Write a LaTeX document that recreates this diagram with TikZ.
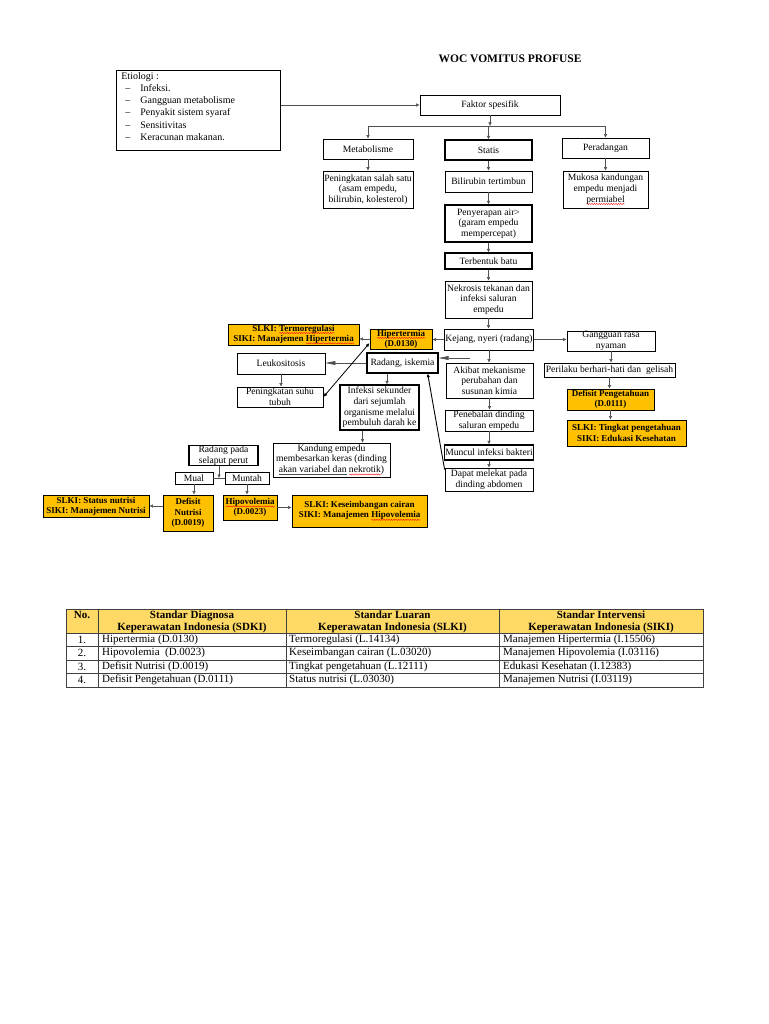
\documentclass[tikz,border=0pt]{standalone}
\usepackage{fontspec}
\setmainfont{Liberation Serif}
\usetikzlibrary{arrows.meta,decorations.pathmorphing}
\definecolor{hiorange}{HTML}{FFC000}
\definecolor{headfill}{HTML}{FFD966}
\definecolor{tblline}{HTML}{404040}
\definecolor{wire}{HTML}{505050}
\newsavebox\wavebox
\newcommand\spellwave[1]{\sbox\wavebox{#1}\rlap{\tikz[baseline=0pt]\draw[red, line width=0.35pt, decoration={snake, amplitude=0.6pt, segment length=2.4pt}, decorate] (0pt,-1.9pt) -- (\wd\wavebox,-1.9pt);}#1}
\newcommand\grammarline[1]{\sbox\wavebox{#1}\rlap{\tikz[baseline=0pt]\draw[black!70, line width=0.4pt] (0pt,-1.6pt) -- (\wd\wavebox,-1.6pt);}#1}
\newcommand\etitem[1]{\makebox[24pt][l]{\hspace*{9pt}--}#1}
\tikzset{
  box/.style={draw=black, line width=0.75pt, fill=white, inner xsep=1pt, inner ysep=0.5pt, align=center, font=\fontsize{9.6}{10.6}\selectfont},
  thickbox/.style={box, line width=1.3pt},
  hibox/.style={box, fill=hiorange, line width=0.9pt, inner xsep=1.5pt, font=\fontsize{9}{10.3}\selectfont\bfseries},
  arr/.style={draw=wire, line width=0.5pt, -{Latex[length=3.5pt,width=3.5pt]}},
  heavyarr/.style={draw=wire, line width=0.6pt, -{Triangle[length=10pt,width=3.8pt]}},
  cell/.style={inner sep=0pt, font=\fontsize{11}{12}\selectfont},
  headcell/.style={cell, font=\fontsize{11}{12}\selectfont\bfseries, align=center}
}
\begin{document}
\begin{tikzpicture}[x=1pt, y=-1pt]
\useasboundingbox (0,0) rectangle (768,1024);
\fill[white] (0,0) rectangle (768,1024);

\node[font=\fontsize{11.5}{13}\selectfont\bfseries] (title) at (510,59) {WOC VOMITUS PROFUSE};

\node[box, anchor=north west, inner sep=0pt, align=left, font=\fontsize{10}{12.2}\selectfont] (etio) at (116,70)
  {\parbox[b][80pt][t]{164pt}{\vspace*{2pt}\hspace*{5pt}Etiologi :\\ \etitem{Infeksi.}\\ \etitem{Gangguan metabolisme}\\ \etitem{Penyakit sistem syaraf}\\ \etitem{Sensitivitas}\\ \etitem{Keracunan makanan.}}};

\node[box, minimum width=140, minimum height=20] (faktor) at (490,105) {Faktor spesifik};
\node[box, minimum width=90, minimum height=20] (metab) at (368,149) {Metabolisme};
\node[thickbox, minimum width=87, minimum height=20] (statis) at (488.5,150) {Statis};
\node[box, minimum width=87, minimum height=20] (perad) at (605.5,148) {Peradangan};
\node[box, minimum width=90, minimum height=37] (pening) at (368,189.5) {Peningkatan salah satu\\(asam empedu,\\bilirubin, kolesterol)};
\node[box, minimum width=87, minimum height=21] (bili) at (488.5,181.5) {Bilirubin tertimbun};
\node[box, minimum width=85, minimum height=37] (mukosa) at (605.5,189.5) {Mukosa kandungan\\empedu menjadi\\\spellwave{permiabel}};
\node[thickbox, minimum width=87, minimum height=37] (penyer) at (488.5,223.5) {Penyerapan air>\\(garam empedu\\mempercepat)};
\node[thickbox, minimum width=87, minimum height=16] (batu) at (488.5,261) {Terbentuk batu};
\node[box, minimum width=87, minimum height=37] (nekro) at (488.5,299.5) {Nekrosis tekanan dan\\infeksi saluran\\empedu};
\node[box, minimum width=88, minimum height=21] (kejang) at (489,339.5) {Kejang, nyeri (radang)};
\node[hibox, minimum width=62, minimum height=20] (hiper) at (401,339) {\spellwave{Hipertermia}\\(D.0130)};
\node[hibox, minimum width=131, minimum height=21] (slkiT) at (293.5,334.5) {SLKI: \spellwave{Termoregulasi}\\SIKI: Manajemen \spellwave{Hipertermia}};
\node[thickbox, minimum width=71, minimum height=20] (radang) at (402.5,363) {Radang, iskemia};
\node[box, minimum width=88, minimum height=21] (leuko) at (281,363.5) {Leukositosis};
\node[box, minimum width=86, minimum height=20] (suhu) at (280,397) {Peningkatan suhu\\tubuh};
\node[thickbox, minimum width=79, minimum height=45] (infek) at (379.5,407.5) {Infeksi sekunder\\dari sejumlah\\organisme melalui\\pembuluh darah ke};
\node[box, minimum width=117, minimum height=34] (kandung) at (331.5,460) {Kandung empedu\\membesarkan keras (dinding\\\grammarline{akan variabel dan} \spellwave{nekrotik})};
\node[thickbox, minimum width=69, minimum height=19] (radpada) at (223.5,455.5) {Radang pada\\selaput perut};
\node[box, minimum width=38, minimum height=12] (mual) at (194,478) {Mual};
\node[box, minimum width=44, minimum height=12] (muntah) at (247,478) {Muntah};
\node[hibox, minimum width=50, minimum height=36] (defnut) at (188,513) {Defisit\\Nutrisi\\(D.0019)};
\node[hibox, minimum width=54, minimum height=25] (hipovol) at (250,507.5) {\spellwave{Hipovolemia}\\(D.0023)};
\node[hibox, minimum width=106, minimum height=22] (slkiN) at (96,506) {SLKI: Status nutrisi\\SIKI: Manajemen Nutrisi};
\node[hibox, minimum width=135, minimum height=32] (slkiK) at (359.5,511) {SLKI: Keseimbangan cairan\\SIKI: Manajemen \spellwave{Hipovolemia}};
\node[box, minimum width=88, minimum height=20] (ganggu) at (611,341) {Gangguan rasa\\nyaman};
\node[box, minimum width=131, minimum height=14] (perilaku) at (609.5,370) {Perilaku berhari-hati dan\ \ gelisah};
\node[hibox, minimum width=87, minimum height=21] (defpeng) at (610.5,399.5) {Defisit Pengetahuan\\(D.0111)};
\node[hibox, minimum width=119, minimum height=26] (slkiTk) at (626.5,433) {SLKI: Tingkat pengetahuan\\SIKI: Edukasi Kesehatan};
\node[box, minimum width=87, minimum height=35] (akibat) at (489.5,380.5) {Akibat mekanisme\\perubahan dan\\susunan kimia};
\node[box, minimum width=88, minimum height=21] (tebal) at (489,420.5) {Penebalan dinding\\saluran empedu};
\node[thickbox, minimum width=88, minimum height=15] (muncul) at (489,452.5) {Muncul infeksi bakteri};
\node[box, minimum width=88, minimum height=23] (dapat) at (489,479.5) {Dapat melekat pada\\dinding abdomen};

\coordinate (brL) at (368,126);
\coordinate (brR) at (605.5,126);
\coordinate (kjr) at (470,358);
\coordinate (mm) at (219,478);

\draw[arr] (etio.east |- faktor.west) -- (faktor.west);
\draw[arr] (faktor.south) -- (faktor.south |- brL);
\draw[wire, line width=0.5pt] (brL) -- (brR);
\draw[arr] (brL) -- (metab.north);
\draw[arr] (statis.north |- brL) -- (statis.north);
\draw[arr] (brR) -- (perad.north);
\foreach \a/\b in {metab/pening, statis/bili, perad/mukosa, bili/penyer, penyer/batu, batu/nekro, nekro/kejang, kejang/akibat, akibat/tebal, tebal/muncul, muncul/dapat, ganggu/perilaku, perilaku/defpeng, defpeng/slkiTk, leuko/suhu}
  \draw[arr] (\a.south) -- (\a.south |- \b.north);
\draw[arr] (kejang.west) -- (kejang.west -| hiper.east);
\draw[arr] (hiper.west) -- (hiper.west -| slkiT.east);
\draw[arr] (kejang.east) -- (kejang.east -| ganggu.west);
\draw[heavyarr] (radang.west) -- (radang.west -| leuko.east);
\draw[heavyarr] (kjr) -- (kjr -| radang.east);
\draw[arr] ([xshift=7.5pt]infek.north |- radang.south) -- ([xshift=7.5pt]infek.north);
\draw[arr] ([xshift=-17pt]infek.south) -- ([xshift=-17pt]infek.south |- kandung.north);
\draw[arr, draw=black, line width=0.9pt] ([yshift=-2pt]dapat.north west) -- ([xshift=-11pt]radang.south east);
\draw[draw=black, line width=0.8pt, {Latex[length=4pt,width=3.5pt]}-{Latex[length=4pt,width=3.5pt]}] (suhu.east) -- ([yshift=-4pt]hiper.west);
\draw[arr] (radpada.south -| mm) -- (mm);
\draw[wire, line width=0.5pt] (mual.east) -- (muntah.west);
\draw[arr] (mual.south) -- (mual.south |- defnut.north);
\draw[arr] (muntah.south) -- (muntah.south |- hipovol.north);
\draw[arr] (defnut.west |- slkiN.east) -- (slkiN.east);
\draw[arr] (hipovol.east) -- (hipovol.east -| slkiK.west);

\fill[headfill] (66,609) rectangle (703,633);
\foreach \y in {633,646,660,673} \draw[tblline, line width=0.6pt] (66,\y) -- (703,\y);
\foreach \x in {98,286,499} \draw[tblline, line width=0.6pt] (\x,609) -- (\x,687);
\draw[tblline, line width=0.9pt] (66,609) rectangle (703,687);
\node[headcell, anchor=north] (hno) at (82,611) {No.};
\node[headcell] (hdx) at (192,621.5) {Standar Diagnosa\\Keperawatan Indonesia (SDKI)};
\node[headcell] (hlu) at (392.5,621.5) {Standar Luaran\\Keperawatan Indonesia (SLKI)};
\node[headcell] (hiv) at (601,621.5) {Standar Intervensi\\Keperawatan Indonesia (SIKI)};
\foreach \i/\y/\dx/\lu/\iv in {
  1/639.5/{Hipertermia (D.0130)}/{Termoregulasi (L.14134)}/{Manajemen Hipertermia (I.15506)},
  2/653/{Hipovolemia~~(D.0023)}/{Keseimbangan cairan (L.03020)}/{Manajemen Hipovolemia (I.03116)},
  3/666.5/{Defisit Nutrisi (D.0019)}/{Tingkat pengetahuan (L.12111)}/{Edukasi Kesehatan (I.12383)},
  4/680/{Defisit Pengetahuan (D.0111)}/{Status nutrisi (L.03030)}/{Manajemen Nutrisi (I.03119)}}{
  \node[cell] (no\i) at (82,\y) {\i.};
  \node[cell, anchor=west] (dx\i) at (102,\y) {\dx};
  \node[cell, anchor=west] (lu\i) at (289,\y) {\lu};
  \node[cell, anchor=west] (iv\i) at (503,\y) {\iv};
}
\end{tikzpicture}
\end{document}
